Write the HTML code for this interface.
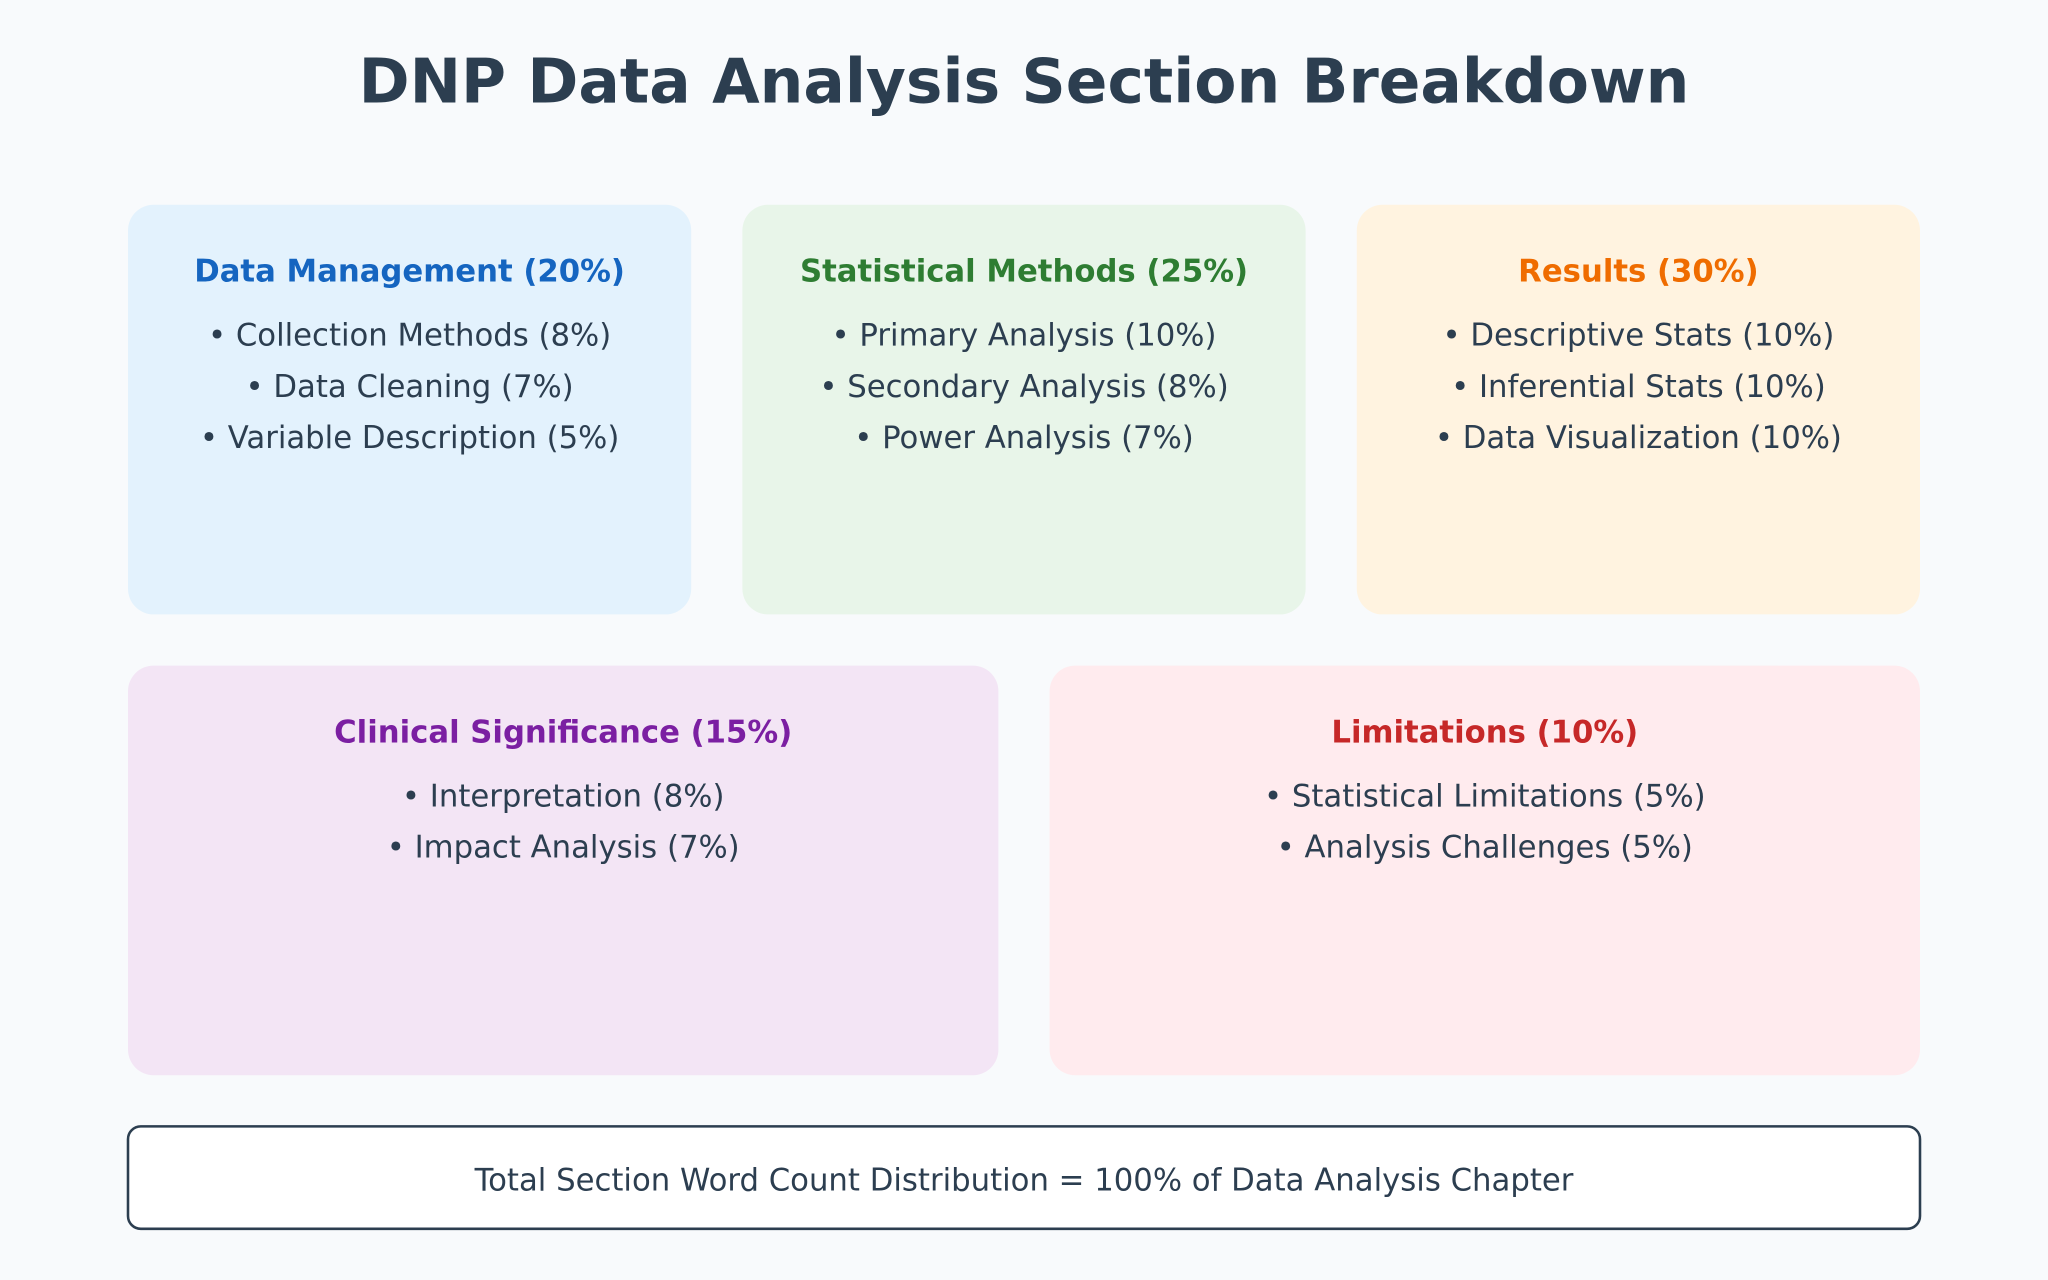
<!DOCTYPE html>
<html>
<head>
<meta charset="utf-8">
<style>
html,body{margin:0;padding:0;background:#f8fafc;}
svg{display:block;}
text{font-family:"DejaVu Sans","Liberation Sans",sans-serif;}
</style>
</head>
<body>
<svg width="2048" height="1280" viewBox="0 0 800 500" xmlns="http://www.w3.org/2000/svg">
<rect x="0" y="0" width="800" height="500" fill="#f8fafc"/>
<text x="400" y="40" text-anchor="middle" font-size="24" font-weight="bold" fill="#2c3e50">DNP Data Analysis Section Breakdown</text>

<rect x="50" y="80" width="220" height="160" rx="10" ry="10" fill="#e3f2fd"/>
<text x="160" y="110" text-anchor="middle" font-size="12" font-weight="bold" fill="#1565c0">Data Management (20%)</text>
<text x="160" y="135" text-anchor="middle" font-size="12" fill="#2c3e50">• Collection Methods (8%)</text>
<text x="160" y="155" text-anchor="middle" font-size="12" fill="#2c3e50">• Data Cleaning (7%)</text>
<text x="160" y="175" text-anchor="middle" font-size="12" fill="#2c3e50">• Variable Description (5%)</text>

<rect x="290" y="80" width="220" height="160" rx="10" ry="10" fill="#e8f5e9"/>
<text x="400" y="110" text-anchor="middle" font-size="12" font-weight="bold" fill="#2e7d32">Statistical Methods (25%)</text>
<text x="400" y="135" text-anchor="middle" font-size="12" fill="#2c3e50">• Primary Analysis (10%)</text>
<text x="400" y="155" text-anchor="middle" font-size="12" fill="#2c3e50">• Secondary Analysis (8%)</text>
<text x="400" y="175" text-anchor="middle" font-size="12" fill="#2c3e50">• Power Analysis (7%)</text>

<rect x="530" y="80" width="220" height="160" rx="10" ry="10" fill="#fff3e0"/>
<text x="640" y="110" text-anchor="middle" font-size="12" font-weight="bold" fill="#ef6c00">Results (30%)</text>
<text x="640" y="135" text-anchor="middle" font-size="12" fill="#2c3e50">• Descriptive Stats (10%)</text>
<text x="640" y="155" text-anchor="middle" font-size="12" fill="#2c3e50">• Inferential Stats (10%)</text>
<text x="640" y="175" text-anchor="middle" font-size="12" fill="#2c3e50">• Data Visualization (10%)</text>

<rect x="50" y="260" width="340" height="160" rx="10" ry="10" fill="#f3e5f5"/>
<text x="220" y="290" text-anchor="middle" font-size="12" font-weight="bold" fill="#7b1fa2">Clinical Significance (15%)</text>
<text x="220" y="315" text-anchor="middle" font-size="12" fill="#2c3e50">• Interpretation (8%)</text>
<text x="220" y="335" text-anchor="middle" font-size="12" fill="#2c3e50">• Impact Analysis (7%)</text>

<rect x="410" y="260" width="340" height="160" rx="10" ry="10" fill="#ffebee"/>
<text x="580" y="290" text-anchor="middle" font-size="12" font-weight="bold" fill="#c62828">Limitations (10%)</text>
<text x="580" y="315" text-anchor="middle" font-size="12" fill="#2c3e50">• Statistical Limitations (5%)</text>
<text x="580" y="335" text-anchor="middle" font-size="12" fill="#2c3e50">• Analysis Challenges (5%)</text>

<rect x="50" y="440" width="700" height="40" rx="5" ry="5" fill="#ffffff" stroke="#2c3e50" stroke-width="1"/>
<text x="400" y="465" text-anchor="middle" font-size="12" fill="#2c3e50">Total Section Word Count Distribution = 100% of Data Analysis Chapter</text>
</svg>
</body>
</html>
